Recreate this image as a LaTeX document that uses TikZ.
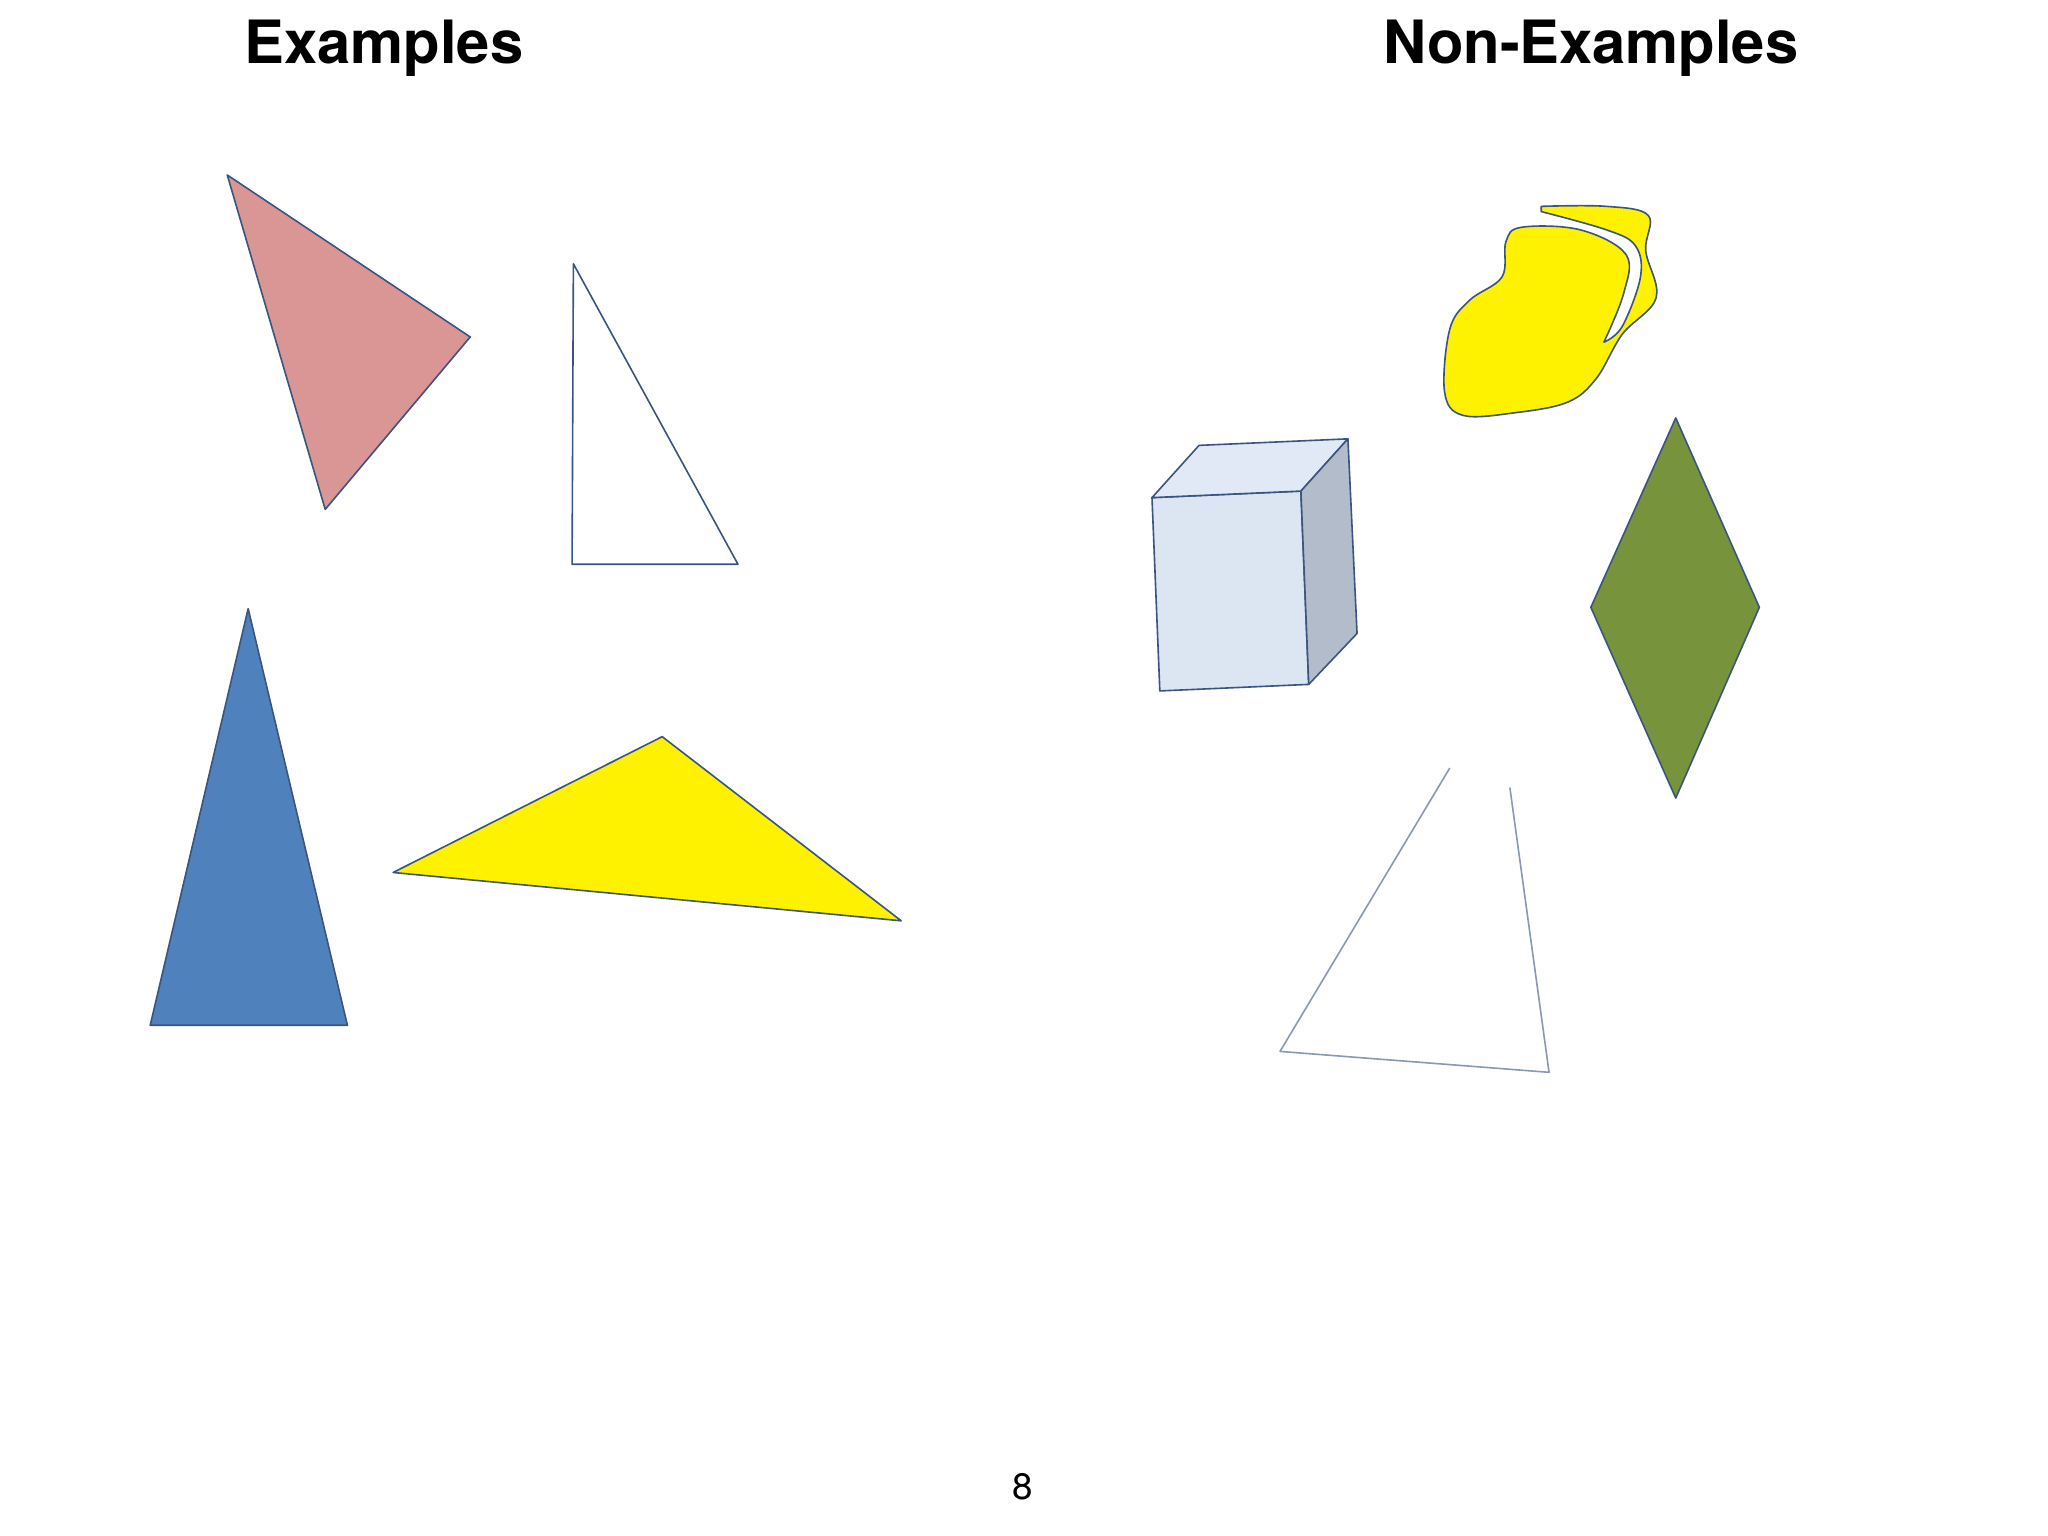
\documentclass[tikz,border=0pt]{standalone}
\usepackage{fontspec}
\setmainfont{TeX Gyre Heros}
\definecolor{pinkfill}{HTML}{D99694}
\definecolor{bluefill}{HTML}{4F81BD}
\definecolor{greenfill}{HTML}{77933C}
\definecolor{cubefront}{HTML}{DCE6F2}
\definecolor{cubetop}{HTML}{E2E9F6}
\definecolor{cubeside}{HTML}{B3BCCB}
\definecolor{edge}{HTML}{3A5580}
\tikzset{
	figshape/.style={draw=edge, line width=0.35pt, line join=round},
	title/.style={font=\fontsize{13}{15}\selectfont\bfseries}
}
\begin{document}
\begin{tikzpicture}[x=0.01cm, y=-0.01cm]
	\useasboundingbox[fill=white] (0,0) rectangle (1568,1176);
	
	% Titles
	\node[title] (extitle) at (294,37) {Examples};
	\node[title] (nontitle) at (1218,37) {Non-Examples};
	
	% Examples
	\draw[figshape, fill=pinkfill] (174,134) -- (360,258) -- (249,390) -- cycle;
	\draw[figshape, fill=white] (439,202) -- (565,432) -- (438,432) -- cycle;
	\draw[figshape, fill=bluefill] (190,466) -- (266,785) -- (115,785) -- cycle;
	\draw[figshape, fill=yellow] (507,564) -- (690,705) -- (301,668) -- cycle;
	
	% Non-Examples
	% blob
	\draw[figshape, fill=yellow] plot[smooth, tension=0.6] coordinates {(1180,158) (1230,158) (1262,165) (1260,192) (1268,228) (1242,256) (1222,290) (1200,308) (1160,316) (1120,318) (1106,300) (1110,252) (1125,230) (1150,212) (1153,185) (1165,174) (1210,176) (1245,195) (1243,225) (1228,262)}
		-- plot[smooth, tension=0.6] coordinates {(1228,262) (1242,250) (1256,212) (1252,188) (1230,176) (1180,162)} -- cycle;
	
	% cube
	\draw[figshape, fill=cubefront] (882,381) -- (996,376) -- (1002,524) -- (888,529) -- cycle;
	\draw[figshape, fill=cubetop] (882,381) -- (918,341) -- (1032,336) -- (996,376) -- cycle;
	\draw[figshape, fill=cubeside] (996,376) -- (1032,336) -- (1039,485) -- (1002,524) -- cycle;
	
	% rhombus
	\draw[figshape, fill=greenfill] (1283,320) -- (1347,465) -- (1283,611) -- (1218,465) -- cycle;
	
	% open triangle
	\draw[draw=edge!60, line width=0.35pt, line join=round] (1110,588) -- (980,805) -- (1186,821) -- (1156,603);
	
	% page number
	\node[font=\fontsize{8}{10}\selectfont] (pagenum) at (783,1138) {8};
\end{tikzpicture}
\end{document}
